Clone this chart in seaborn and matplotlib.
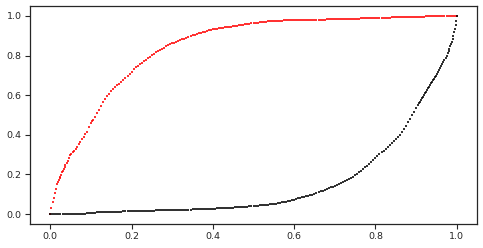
import matplotlib
matplotlib.use("Agg")
import matplotlib.pyplot as plt
import seaborn as sns
import pandas as pd

# (x, y) points, red series (concave)
red_pts = [
    (0.000, 0.000), (0.0025, 0.029), (0.006, 0.062), (0.009, 0.082), (0.012, 0.108),
    (0.014, 0.126), (0.016, 0.153), (0.019, 0.163), (0.021, 0.170), (0.023, 0.180),
    (0.025, 0.188), (0.027, 0.199), (0.029, 0.210), (0.031, 0.219), (0.033, 0.227),
    (0.035, 0.237), (0.037, 0.247), (0.040, 0.258), (0.043, 0.269), (0.046, 0.284),
    (0.049, 0.298), (0.052, 0.305), (0.055, 0.311), (0.058, 0.318), (0.062, 0.329),
    (0.066, 0.340), (0.070, 0.352), (0.074, 0.365), (0.078, 0.378), (0.082, 0.390),
    (0.086, 0.403), (0.091, 0.416), (0.095, 0.437), (0.099, 0.458), (0.102, 0.468),
    (0.105, 0.477), (0.110, 0.492), (0.115, 0.509), (0.120, 0.527), (0.125, 0.546),
    (0.130, 0.565), (0.135, 0.580), (0.140, 0.594), (0.145, 0.608), (0.150, 0.621),
    (0.155, 0.631), (0.160, 0.640), (0.165, 0.649), (0.170, 0.658), (0.175, 0.667),
    (0.180, 0.676), (0.185, 0.685), (0.190, 0.697), (0.195, 0.708), (0.200, 0.719),
    (0.205, 0.730), (0.210, 0.741), (0.215, 0.748), (0.220, 0.756), (0.225, 0.763),
    (0.230, 0.770), (0.235, 0.778), (0.240, 0.786), (0.245, 0.794), (0.250, 0.801),
    (0.255, 0.809), (0.260, 0.816), (0.265, 0.822), (0.270, 0.828), (0.275, 0.834),
    (0.280, 0.840), (0.285, 0.846), (0.290, 0.852), (0.295, 0.857), (0.300, 0.861),
    (0.305, 0.865), (0.310, 0.869), (0.315, 0.874), (0.320, 0.878), (0.325, 0.882),
    (0.330, 0.886), (0.335, 0.890), (0.340, 0.894), (0.345, 0.898), (0.350, 0.902),
    (0.355, 0.906), (0.360, 0.910), (0.365, 0.913), (0.370, 0.916), (0.375, 0.918),
    (0.380, 0.921), (0.385, 0.924), (0.390, 0.927), (0.395, 0.930), (0.400, 0.933),
    (0.405, 0.934), (0.410, 0.936), (0.415, 0.937), (0.420, 0.939), (0.425, 0.940),
    (0.430, 0.942), (0.435, 0.943), (0.440, 0.945), (0.445, 0.946), (0.450, 0.948),
    (0.455, 0.950), (0.460, 0.951), (0.465, 0.953), (0.470, 0.955), (0.475, 0.956),
    (0.480, 0.958), (0.485, 0.960), (0.490, 0.961), (0.495, 0.962), (0.500, 0.964),
    (0.505, 0.965), (0.510, 0.966), (0.515, 0.968), (0.520, 0.969), (0.525, 0.970),
    (0.530, 0.971), (0.535, 0.972), (0.540, 0.972), (0.545, 0.973), (0.550, 0.974),
    (0.555, 0.974), (0.560, 0.975), (0.565, 0.976), (0.570, 0.976), (0.575, 0.977),
    (0.580, 0.977), (0.585, 0.978), (0.590, 0.978), (0.595, 0.979), (0.600, 0.979),
    (0.605, 0.980), (0.610, 0.980), (0.615, 0.980), (0.620, 0.980), (0.625, 0.980),
    (0.630, 0.980), (0.635, 0.980), (0.640, 0.980), (0.645, 0.980), (0.650, 0.980),
    (0.655, 0.980), (0.660, 0.980), (0.665, 0.980), (0.670, 0.980), (0.675, 0.980),
    (0.680, 0.985), (0.685, 0.985), (0.690, 0.985), (0.695, 0.985), (0.700, 0.985),
    (0.705, 0.985), (0.710, 0.985), (0.715, 0.985), (0.720, 0.985), (0.725, 0.985),
    (0.730, 0.985), (0.735, 0.985), (0.740, 0.985), (0.745, 0.985), (0.750, 0.985),
    (0.755, 0.985), (0.760, 0.985), (0.765, 0.990), (0.770, 0.990), (0.775, 0.990),
    (0.780, 0.990), (0.785, 0.990), (0.790, 0.990), (0.795, 0.990), (0.800, 0.990),
    (0.805, 0.990), (0.810, 0.990), (0.815, 0.990), (0.820, 0.990), (0.825, 0.990),
    (0.830, 0.990), (0.835, 0.990), (0.840, 0.995), (0.845, 0.995), (0.850, 0.995),
    (0.855, 0.995), (0.860, 0.995), (0.865, 0.995), (0.870, 0.995), (0.875, 0.995),
    (0.880, 0.995), (0.885, 0.995), (0.890, 0.995), (0.895, 0.995), (0.900, 0.995),
    (0.905, 0.995), (0.910, 0.995), (0.915, 0.995), (0.920, 0.995), (0.925, 1.000),
    (0.930, 1.000), (0.935, 1.000), (0.940, 1.000), (0.945, 1.000), (0.950, 1.000),
    (0.955, 1.000), (0.960, 1.000), (0.965, 1.000), (0.970, 1.000), (0.975, 1.000),
    (0.980, 1.000), (0.985, 1.000), (0.990, 1.000), (0.995, 1.000), (1.000, 1.000),
]

# (x, y) points, black series (convex)
black_pts = [
    (0.000, 0.000), (0.005, 0.000), (0.010, 0.000), (0.015, 0.000), (0.020, 0.000),
    (0.025, 0.000), (0.030, 0.000), (0.035, 0.000), (0.040, 0.000), (0.045, 0.000),
    (0.050, 0.000), (0.055, 0.000), (0.060, 0.000), (0.065, 0.000), (0.070, 0.000),
    (0.075, 0.000), (0.080, 0.000), (0.085, 0.000), (0.090, 0.007), (0.095, 0.007),
    (0.100, 0.008), (0.105, 0.008), (0.110, 0.008), (0.115, 0.009), (0.120, 0.009),
    (0.125, 0.009), (0.130, 0.010), (0.135, 0.010), (0.140, 0.010), (0.145, 0.011),
    (0.150, 0.011), (0.155, 0.011), (0.160, 0.012), (0.165, 0.012), (0.170, 0.013),
    (0.175, 0.013), (0.180, 0.014), (0.185, 0.014), (0.190, 0.014), (0.195, 0.015),
    (0.200, 0.015), (0.205, 0.015), (0.210, 0.016), (0.215, 0.016), (0.220, 0.016),
    (0.225, 0.016), (0.230, 0.017), (0.235, 0.017), (0.240, 0.017), (0.245, 0.018),
    (0.250, 0.018), (0.255, 0.018), (0.260, 0.019), (0.265, 0.019), (0.270, 0.019),
    (0.275, 0.019), (0.280, 0.020), (0.285, 0.020), (0.290, 0.020), (0.295, 0.021),
    (0.300, 0.021), (0.305, 0.021), (0.310, 0.021), (0.315, 0.022), (0.320, 0.022),
    (0.325, 0.022), (0.330, 0.022), (0.335, 0.023), (0.340, 0.023), (0.345, 0.023),
    (0.350, 0.024), (0.355, 0.024), (0.360, 0.024), (0.365, 0.025), (0.370, 0.025),
    (0.375, 0.026), (0.380, 0.026), (0.385, 0.027), (0.390, 0.027), (0.395, 0.028),
    (0.400, 0.028), (0.405, 0.028), (0.410, 0.029), (0.415, 0.029), (0.420, 0.030),
    (0.425, 0.030), (0.430, 0.031), (0.435, 0.031), (0.440, 0.032), (0.445, 0.032),
    (0.450, 0.033), (0.455, 0.034), (0.460, 0.034), (0.465, 0.035), (0.470, 0.036),
    (0.475, 0.036), (0.480, 0.037), (0.485, 0.038), (0.490, 0.039), (0.495, 0.040),
    (0.500, 0.041), (0.505, 0.042), (0.510, 0.043), (0.515, 0.044), (0.520, 0.045),
    (0.525, 0.046), (0.530, 0.047), (0.535, 0.048), (0.540, 0.049), (0.545, 0.050),
    (0.550, 0.051), (0.555, 0.053), (0.560, 0.055), (0.565, 0.057), (0.570, 0.059),
    (0.575, 0.061), (0.580, 0.063), (0.585, 0.065), (0.590, 0.067), (0.595, 0.070),
    (0.600, 0.073), (0.605, 0.076), (0.610, 0.079), (0.615, 0.082), (0.620, 0.084),
    (0.625, 0.087), (0.630, 0.089), (0.635, 0.091), (0.640, 0.094), (0.645, 0.097),
    (0.650, 0.102), (0.655, 0.106), (0.660, 0.110), (0.665, 0.114), (0.670, 0.118),
    (0.675, 0.122), (0.680, 0.126), (0.685, 0.131), (0.690, 0.135), (0.695, 0.139),
    (0.700, 0.143), (0.705, 0.147), (0.710, 0.152), (0.715, 0.157), (0.720, 0.162),
    (0.725, 0.167), (0.730, 0.172), (0.735, 0.177), (0.740, 0.182), (0.745, 0.188),
    (0.750, 0.195), (0.755, 0.203), (0.760, 0.211), (0.765, 0.219), (0.770, 0.227),
    (0.775, 0.236), (0.780, 0.244), (0.785, 0.252), (0.790, 0.261), (0.795, 0.271),
    (0.800, 0.281), (0.805, 0.291), (0.810, 0.301), (0.815, 0.311), (0.820, 0.320),
    (0.825, 0.329), (0.830, 0.338), (0.835, 0.347), (0.840, 0.357), (0.845, 0.367),
    (0.850, 0.378), (0.855, 0.388), (0.860, 0.399), (0.865, 0.414), (0.870, 0.430),
    (0.875, 0.447), (0.880, 0.463), (0.885, 0.480), (0.890, 0.498), (0.895, 0.516),
    (0.900, 0.534), (0.905, 0.551), (0.9075, 0.559), (0.910, 0.568), (0.9125, 0.576),
    (0.915, 0.584), (0.9175, 0.593), (0.920, 0.601), (0.9225, 0.610), (0.925, 0.618),
    (0.9275, 0.627), (0.930, 0.635), (0.9325, 0.643), (0.935, 0.651), (0.9375, 0.659),
    (0.940, 0.667), (0.9425, 0.675), (0.945, 0.683), (0.9475, 0.691), (0.950, 0.699),
    (0.9525, 0.708), (0.955, 0.718), (0.9575, 0.728), (0.960, 0.738), (0.9625, 0.748),
    (0.965, 0.758), (0.9675, 0.768), (0.970, 0.779), (0.9725, 0.790), (0.975, 0.800),
    (0.9775, 0.812), (0.980, 0.824), (0.982, 0.835), (0.984, 0.846), (0.986, 0.858),
    (0.988, 0.870), (0.990, 0.883), (0.992, 0.900), (0.994, 0.918), (0.996, 0.936),
    (0.998, 0.956), (0.999, 0.976), (1.000, 1.000),
]

red_x = [p[0] for p in red_pts]
red_y = [p[1] for p in red_pts]
black_x = [p[0] for p in black_pts]
black_y = [p[1] for p in black_pts]

sns.set_style("ticks")
plt.rcParams['font.family'] = ['DejaVu Sans']

fig = plt.figure(figsize=(4.83, 2.48), dpi=100)
ax = fig.add_axes([30 / 483, 1 - 224 / 248, 447 / 483, 218 / 248])

df_red = pd.DataFrame({"x": red_x, "y": red_y})
df_black = pd.DataFrame({"x": black_x, "y": black_y})

sns.scatterplot(data=df_red, x="x", y="y", ax=ax, color="#ff0000", s=3.2,
                marker="s", linewidth=0, alpha=0.8)
sns.scatterplot(data=df_black, x="x", y="y", ax=ax, color="#000000", s=3.2,
                marker="s", linewidth=0, alpha=0.8)

ax.set_xlim(-0.05, 1.05)
ax.set_ylim(-0.05, 1.05)
ax.set_xticks([0.0, 0.2, 0.4, 0.6, 0.8, 1.0])
ax.set_yticks([0.0, 0.2, 0.4, 0.6, 0.8, 1.0])
ax.set_xlabel("")
ax.set_ylabel("")
ax.tick_params(labelsize=6.8, length=3.5, width=0.8, colors="#262626", pad=2.5)
for sp in ax.spines.values():
    sp.set_visible(True)
    sp.set_linewidth(0.9)
    sp.set_color("#262626")

fig.savefig("out.png", dpi=100)
